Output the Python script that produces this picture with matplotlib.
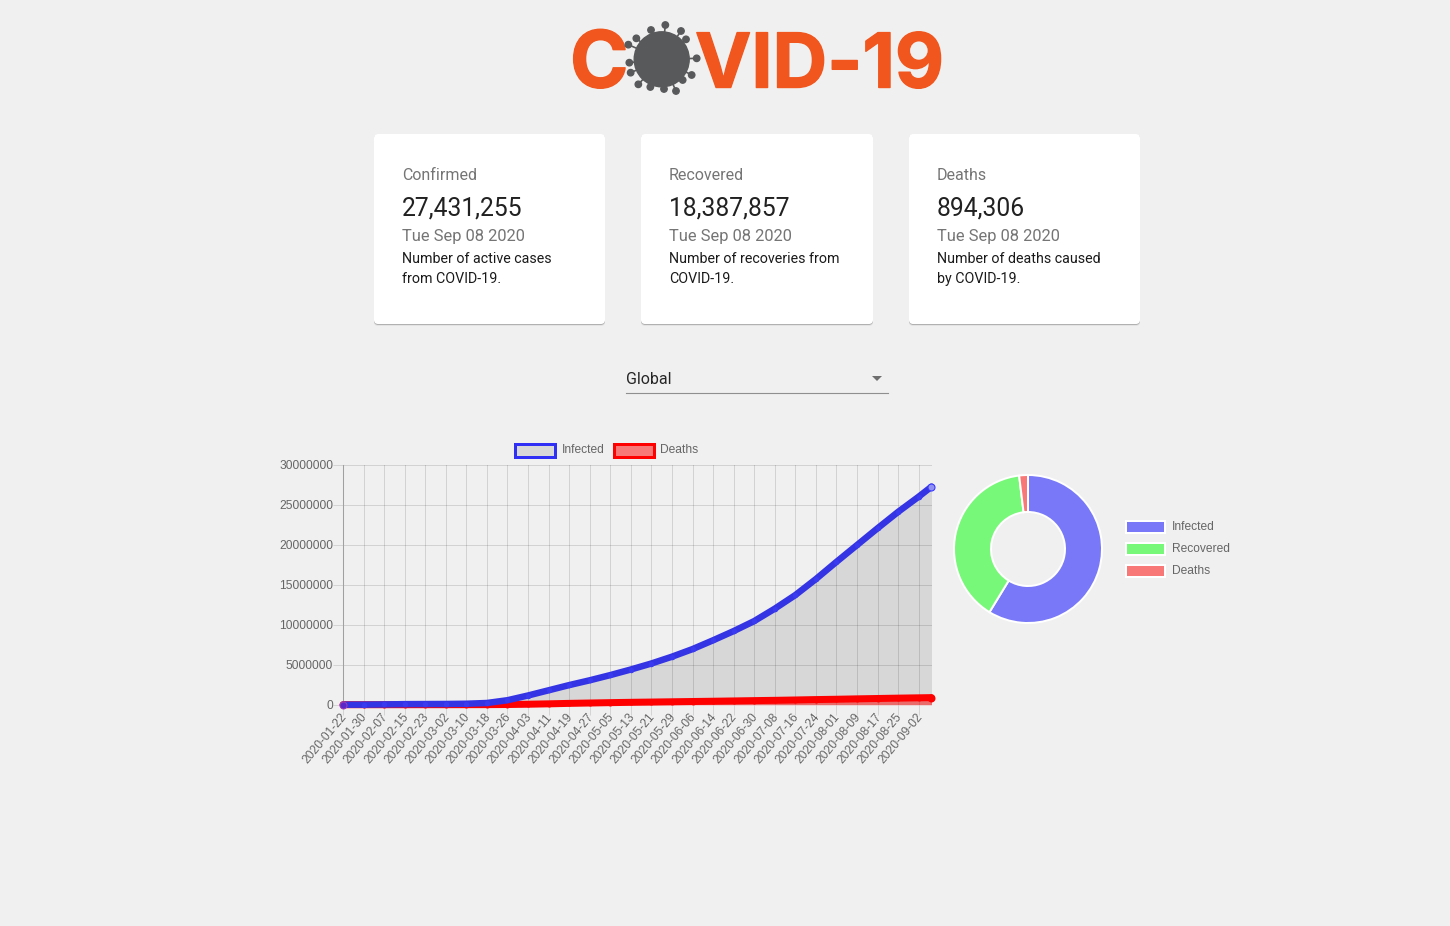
import matplotlib
matplotlib.use("Agg")
import numpy as np
import pandas as pd
import matplotlib.pyplot as plt
from matplotlib.patches import Circle, FancyBboxPatch, Polygon, Rectangle
from matplotlib.transforms import ScaledTranslation
import matplotlib.patheffects as pe

# ===================== DATA =====================
dates = ["2020-01-22", "2020-01-30", "2020-02-07", "2020-02-15", "2020-02-23", "2020-03-02",
         "2020-03-10", "2020-03-18", "2020-03-26", "2020-04-03", "2020-04-11", "2020-04-19",
         "2020-04-27", "2020-05-05", "2020-05-13", "2020-05-21", "2020-05-29", "2020-06-06",
         "2020-06-14", "2020-06-22", "2020-06-30", "2020-07-08", "2020-07-16", "2020-07-24",
         "2020-08-01", "2020-08-09", "2020-08-17", "2020-08-25", "2020-09-02", "2020-09-07"]
infected = [600, 8000, 34000, 69000, 79000, 90000, 119000, 214000, 560000, 1150000,
            1800000, 2450000, 3050000, 3700000, 4400000, 5150000, 6000000, 6950000,
            8050000, 9200000, 10450000, 12000000, 13700000, 15700000, 17850000,
            19950000, 22050000, 24100000, 26000000, 27250000]
deaths = [20, 170, 700, 1500, 2600, 3100, 4300, 8800, 24000, 59000, 108000, 165000,
          211000, 257000, 297000, 330000, 365000, 399000, 433000, 470000, 510000, 545000,
          590000, 640000, 680000, 730000, 775000, 820000, 860000, 885000]
y_ticks = [0, 5000000, 10000000, 15000000, 20000000, 25000000, 30000000]

pie_labels = ["Infected", "Recovered", "Deaths"]
pie_values = [27431255, 18387857, 894306]
pie_colors = ["#7878f8", "#78f878", "#f87878"]

card_titles = ["Confirmed", "Recovered", "Deaths"]
card_numbers = ["27,431,255", "18,387,857", "894,306"]
card_date = "Tue Sep 08 2020"
card_texts = ["Number of active cases\nfrom COVID-19.",
              "Number of recoveries from\nCOVID-19.",
              "Number of deaths caused\nby COVID-19."]

# ===================== HELPERS =====================
W, H = 1450, 926
BG = "#f0f0f0"


def px_axes(fig, left, top, right, bottom):
    """Axes placed with pixel coordinates measured from the top left."""
    return fig.add_axes([left / W, 1 - bottom / H, (right - left) / W, (bottom - top) / H])


def px(size):
    return size * 0.72


fig = plt.figure(figsize=(W / 100, H / 100), dpi=100, facecolor=BG)

# Overlay for the page elements
page = fig.add_axes([0, 0, 1, 1])
page.set_xlim(0, W)
page.set_ylim(H, 0)
page.axis("off")

# ===================== LOGO =====================
ORANGE = "#f0561d"
VIRUS = "#58595b"
bolder = [pe.withStroke(linewidth=1.0, foreground=ORANGE)]
page.text(570, 87.5, "C", color=ORANGE, fontsize=px(79), family="Inter", weight="bold",
          va="baseline", ha="left", path_effects=bolder)
page.text(695, 87.5, "VID-19", color=ORANGE, fontsize=px(75.5), family="Inter", weight="bold",
          va="baseline", ha="left", path_effects=bolder)
cx, cy = 661.7, 59.3
page.add_patch(Circle((cx, cy), 27.5, color=VIRUS, zorder=3))
spikes = [(316, 45), (363, 63), (378, 88), (410, 145), (395, 195), (368, 210), (348, 243),
          (312, 237), (271, 231), (235, 223), (212, 188), (208, 158), (205, 104), (229, 85),
          (273, 60)]
for zx, zy in spikes:
    sx, sy = 560 + zx / 3, 10 + zy / 3
    page.plot([cx, sx], [cy, sy], color=VIRUS, lw=1.2, zorder=3)
    page.add_patch(Circle((sx, sy), 3.2, color=VIRUS, zorder=3))

# ===================== CARDS =====================
card_lefts = [374, 641, 909]
card_rights = [605, 873, 1140]
for i in range(3):
    l, r = card_lefts[i], card_rights[i]
    for off, alpha in [(2.0, 0.05), (1.0, 0.15), (0.4, 0.2)]:
        page.add_patch(FancyBboxPatch((l + 4, 138 + off), r - l - 8, 182,
                                      boxstyle="round,pad=4", fc="black", ec="none", alpha=alpha))
    page.add_patch(FancyBboxPatch((l + 4, 138), r - l - 8, 182,
                                  boxstyle="round,pad=4", fc="white", ec="none"))
    tx = l + 28
    page.text(tx, 175, card_titles[i], color="#757575", fontsize=px(16), family="Roboto", va="center")
    page.text(tx, 208.5, card_numbers[i], color="#212121", fontsize=px(24.6), family="Roboto", va="center")
    page.text(tx, 236, card_date, color="#757575", fontsize=px(16.5), family="Roboto", va="center")
    page.text(tx, 269, card_texts[i], color="#1a1a1a", fontsize=px(14.2), family="Roboto",
              va="center", linespacing=1.58)

# ===================== DROPDOWN =====================
page.text(626, 379, "Global", color="#262626", fontsize=px(16), family="Roboto", va="center")
page.plot([626, 888.5], [393, 393], color="#8f8f8f", lw=0.8)
page.add_patch(Polygon([(872, 376), (882, 376), (877, 381)], fc="#6e6e6e", ec="none"))

# ===================== LINE CHART =====================
ax = px_axes(fig, 343, 464.7, 931.5, 704.7)
ax.patch.set_alpha(0)
d = pd.to_datetime(dates)
x = (d - d[0]).days.values

ax.fill_between(x, infected, 0, color="black", alpha=0.1, lw=0, zorder=2)
ax.fill_between(x, deaths, 0, color="red", alpha=0.5, lw=0, zorder=2)
ax.plot(x, deaths, color="#ff0000", lw=px(7), marker="o", ms=px(6), mew=0, zorder=4,
        clip_on=False, solid_capstyle="round")
ax.plot(x, infected, color="#3434e4", lw=px(6.5), marker="o", ms=px(5.5), mfc="#3a3af0",
        mew=0, zorder=5, clip_on=False, solid_capstyle="round")
ax.plot(x[-1], infected[-1], marker="o", ms=px(7), mfc="#9090f0", mec="#3a3aff", mew=0.8,
        zorder=6, clip_on=False)
ax.plot(x[-1], deaths[-1], marker="o", ms=px(8), mfc="#ff0000", mew=0, zorder=6, clip_on=False)
ax.plot(x[0], infected[0], marker="o", ms=px(7), mfc="#5a28c8", mec="#a040b0", mew=0.7,
        zorder=6, clip_on=False)

ax.set_xlim(0, 229)
ax.set_ylim(0, 30000000)
ax.set_yticks(y_ticks)
ax.set_yticklabels([str(v) for v in y_ticks])
ax.set_xticks(x[:-1])
ax.set_xticklabels(dates[:-1], rotation=50, ha="right", va="top", rotation_mode="anchor")
ax.grid(True, color="black", alpha=0.12, lw=0.72, zorder=1)
ax.set_axisbelow(True)
ax.tick_params(axis="both", length=7.2, width=0.72, color="#d4d4d4", labelcolor="#666666",
               labelsize=px(12), pad=0)
for label in ax.get_xticklabels() + ax.get_yticklabels():
    label.set_family("Liberation Sans")
shift = ScaledTranslation(-3 / 100, 3.5 / 100, fig.dpi_scale_trans)
for label in ax.get_xticklabels():
    label.set_transform(label.get_transform() + shift)
for side in ["top", "right", "bottom"]:
    ax.spines[side].set_visible(False)
ax.spines["left"].set_color("#a0a0a0")
ax.spines["left"].set_linewidth(0.75)

# Legend of the line chart
page.add_patch(Rectangle((515.5, 443.5), 40, 13, fc="#d8d8d8", ec="#2f2ff5", lw=px(3)))
page.text(562, 450, "Infected", color="#666666", fontsize=px(12), family="Liberation Sans", va="center")
page.add_patch(Rectangle((614.5, 443.5), 40, 13, fc="#f87878", ec="#ff0000", lw=px(3)))
page.text(660.5, 450, "Deaths", color="#666666", fontsize=px(12), family="Liberation Sans", va="center")

# ===================== DOUGHNUT =====================
ax_pie = px_axes(fig, 953, 474, 1103, 624)
ax_pie.pie(pie_values, colors=pie_colors, startangle=90, counterclock=False, radius=1.0,
           wedgeprops={"width": 0.5, "edgecolor": "white", "linewidth": px(2)})
ax_pie.set_xlim(-75 / 74, 75 / 74)
ax_pie.set_ylim(-75 / 74, 75 / 74)

for label, color, top in zip(pie_labels, pie_colors, [520.5, 542.5, 564.5]):
    page.add_patch(Rectangle((1126.5, top), 39, 12, fc=color, ec="white", lw=px(2)))
    page.text(1172, top + 6, label, color="#666666", fontsize=px(12), family="Liberation Sans", va="center")

fig.savefig("out.png", dpi=100, facecolor=BG)
